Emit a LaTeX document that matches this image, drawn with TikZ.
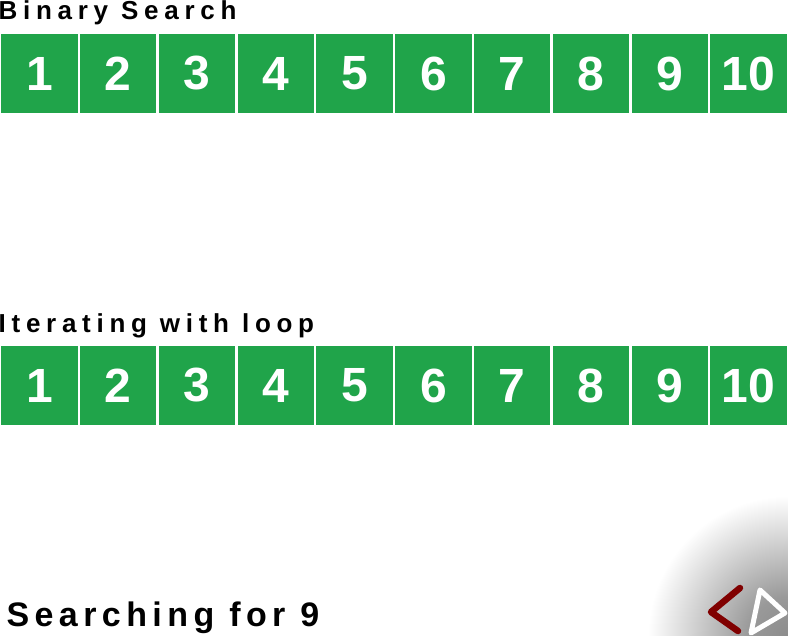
\documentclass[tikz,border=0pt]{standalone}
\usepackage{fontspec}
\setmainfont{Liberation Sans}
\newfontfamily\spacedfont{Liberation Sans}[LetterSpace=22,BoldFont={Liberation Sans Bold}]
\newfontfamily\statusfont{Liberation Sans}[LetterSpace=16,BoldFont={Liberation Sans Bold}]
\definecolor{cellgreen}{RGB}{32,164,74}
\definecolor{navred}{RGB}{128,0,0}
\pgfdeclareradialshading{navshadow}{\pgfpoint{0bp}{0bp}}{color(0bp)=(black!45); color(7bp)=(black!40); color(16bp)=(black!20); color(25bp)=(white); color(50bp)=(white)}
\tikzset{
  cell/.style={fill=cellgreen, text=white, minimum width=76.3pt, minimum height=79pt,
               inner sep=0pt, font=\bfseries\fontsize{48}{48}\selectfont},
  heading/.style={anchor=base west, inner sep=0pt, font=\spacedfont\bfseries\fontsize{26}{26}\selectfont}
}
\begin{document}
\begin{tikzpicture}[x=1pt,y=-1pt]
\useasboundingbox (0,0) rectangle (788,636);
\fill[white] (0,0) rectangle (788,636);
\begin{scope}
  \clip (0,0) rectangle (788,636);
  \shade[shading=navshadow] (788,636) circle (140);
\end{scope}
\node[heading] (binhead) at (-1.5,20) {Binary Search};
\foreach \i in {1,...,10}
  \node[cell] (bin\i) at ({(\i-1)*78.8+39.4},73.5) {\i};
\node[heading] (loophead) at (-1.5,333) {Iterating with loop};
\foreach \i in {1,...,10}
  \node[cell] (loop\i) at ({(\i-1)*78.8+39.4},385.5) {\i};
\node[heading, font=\statusfont\bfseries\fontsize{34}{34}\selectfont] (status) at (6.3,626) {Searching for 9};
% prev / next
\draw[navred, line width=6.5pt, line cap=round, line join=round] (740,588) -- (711,612) -- (738,631);
\draw[white, line width=5pt, line join=round] (760,590) -- (785,613) -- (751,633) -- cycle;
\end{tikzpicture}
\end{document}
